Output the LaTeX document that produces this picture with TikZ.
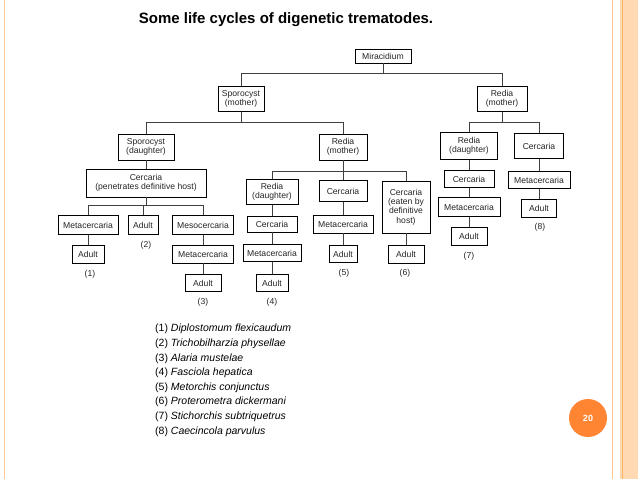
\documentclass[tikz,border=0pt]{standalone}
\usepackage{fontspec}
\setmainfont{Liberation Sans}
\begin{document}
\begin{tikzpicture}[x=1pt,y=-1pt,
  box/.style={draw=black,line width=0.8pt,fill=white,inner sep=0.5pt,align=center,font=\fontsize{8.6}{9.2}\selectfont,text=black!85},
  lab/.style={font=\fontsize{8.6}{9.2}\selectfont,text=black!85},
  ln/.style={draw=black!75,line width=0.8pt}]
\useasboundingbox (0,0) rectangle (638,479);
\fill[white] (0,0) rectangle (638,479);
\draw[color=orange!40,line width=1pt] (4,0) -- (4,479);
\draw[color=orange!45,line width=1pt] (612,0) -- (612,479);
\fill[orange!30] (620,0) rectangle (638,479);
\draw[color=orange!60,line width=1pt] (622,0) -- (622,479);
\node[font=\bfseries\fontsize{15}{16}\selectfont] (title) at (286,20) {Some life cycles of digenetic trematodes.};
% row 0-1
\node[box,minimum width=56,minimum height=14] (mir) at (383,56) {Miracidium};
\node[box,minimum width=46,minimum height=25] (spm) at (241,99) {Sporocyst\\(mother)};
\node[box,minimum width=50,minimum height=25] (rdm) at (502,99) {Redia\\(mother)};
\coordinate (b1) at (0,73);
\draw[ln] (mir.south) -- (mir.south |- b1) -| (spm.north);
\draw[ln] (mir.south |- b1) -| (rdm.north);
% row 2
\node[box,minimum width=56,minimum height=26] (spd) at (146,147) {Sporocyst\\(daughter)};
\node[box,minimum width=48,minimum height=26] (rmm) at (343,147) {Redia\\(mother)};
\node[box,minimum width=57,minimum height=27] (rdd) at (469,146) {Redia\\(daughter)};
\node[box,minimum width=49,minimum height=25] (cerR) at (539,146) {Cercaria};
\coordinate (b2) at (0,122);
\draw[ln] (spm.south) -- (spm.south |- b2) -| (spd.north);
\draw[ln] (spm.south |- b2) -| (rmm.north);
\draw[ln] (rdm.south) -- (rdm.south |- b2) -| (rdd.north);
\draw[ln] (rdm.south |- b2) -| (cerR.north);
% left branch
\node[box,minimum width=120,minimum height=28] (cpen) at (146,183) {Cercaria\\(penetrates definitive host)};
\draw[ln] (spd.south) -- (cpen.north);
\node[box,minimum width=60,minimum height=19] (meta1) at (88,225) {Metacercaria};
\node[box,minimum width=30,minimum height=19] (ad2) at (143,225) {Adult};
\node[box,minimum width=61,minimum height=19] (meso) at (203,225) {Mesocercaria};
\coordinate (b3) at (0,205);
\draw[ln] (cpen.south) -- (cpen.south |- b3) -| (meta1.north);
\draw[ln] (cpen.south |- b3) -| (ad2.north);
\draw[ln] (cpen.south |- b3) -| (meso.north);
\node[box,minimum width=32,minimum height=18] (ad1) at (88,254) {Adult};
\draw[ln] (meta1.south) -- (ad1.north);
\node[lab] (l1) at (90,274) {(1)};
\node[lab] (l2) at (146,245) {(2)};
\node[box,minimum width=61,minimum height=18] (meta3) at (203,254) {Metacercaria};
\node[box,minimum width=36,minimum height=17] (ad3) at (203,283) {Adult};
\draw[ln] (meso.south) -- (meta3.north);
\draw[ln] (meta3.south) -- (ad3.north);
\node[lab] (l3) at (203,302) {(3)};
% middle branch
\coordinate (b4) at (0,171);
\node[box,minimum width=52,minimum height=25] (rdd2) at (272,192) {Redia\\(daughter)};
\node[box,minimum width=48,minimum height=21] (cer5) at (343,191) {Cercaria};
\node[box,minimum width=48,minimum height=52] (cerE) at (406,207) {Cercaria\\(eaten by\\definitive\\host)};
\draw[ln] (rmm.south) -- (rmm.south |- b4) -| (rdd2.north);
\draw[ln] (rmm.south |- b4) -- (cer5.north);
\draw[ln] (rmm.south |- b4) -| (cerE.north);
\node[box,minimum width=50,minimum height=16] (cer4) at (272,224) {Cercaria};
\node[box,minimum width=58,minimum height=17] (meta4) at (272,253) {Metacercaria};
\node[box,minimum width=32,minimum height=17] (ad4) at (272,283) {Adult};
\draw[ln] (rdd2.south) -- (cer4.north);
\draw[ln] (cer4.south) -- (meta4.north);
\draw[ln] (meta4.south) -- (ad4.north);
\node[lab] (l4) at (272,302) {(4)};
\node[box,minimum width=60,minimum height=18] (meta5) at (343,224) {Metacercaria};
\node[box,minimum width=28,minimum height=17] (ad5) at (343,254) {Adult};
\draw[ln] (cer5.south) -- (meta5.north);
\draw[ln] (meta5.south) -- (ad5.north);
\node[lab] (l5) at (344,273) {(5)};
\node[box,minimum width=36,minimum height=18] (ad6) at (406,254) {Adult};
\draw[ln] (cerE.south) -- (ad6.north);
\node[lab] (l6) at (405,273) {(6)};
% right branch
\node[box,minimum width=50,minimum height=17] (cer7) at (469,179) {Cercaria};
\node[box,minimum width=62,minimum height=19] (meta7) at (469,207) {Metacercaria};
\node[box,minimum width=36,minimum height=18] (ad7) at (469,236) {Adult};
\draw[ln] (rdd.south) -- (cer7.north);
\draw[ln] (cer7.south) -- (meta7.north);
\draw[ln] (meta7.south) -- (ad7.north);
\node[lab] (l7) at (469,256) {(7)};
\node[box,minimum width=62,minimum height=17] (metaR) at (539,180) {Metacercaria};
\node[box,minimum width=35,minimum height=18] (ad8) at (539,208) {Adult};
\draw[ln] (cerR.south) -- (metaR.north);
\draw[ln] (metaR.south) -- (ad8.north);
\node[lab] (l8) at (540,227) {(8)};
% legend
\node[anchor=north west,align=left,font=\fontsize{10.5}{14.6}\selectfont,inner sep=0pt] (leg) at (155,324) {%
(1) \textit{Diplostomum flexicaudum}\\
(2) \textit{Trichobilharzia physellae}\\
(3) \textit{Alaria mustelae}\\
(4) \textit{Fasciola hepatica}\\
(5) \textit{Metorchis conjunctus}\\
(6) \textit{Proterometra dickermani}\\
(7) \textit{Stichorchis subtriquetrus}\\
(8) \textit{Caecincola parvulus}};
\node[circle,fill=orange!80!red!80,minimum size=38,text=white,font=\bfseries\fontsize{9}{10}\selectfont] (pg) at (588,418) {20};
\end{tikzpicture}
\end{document}
